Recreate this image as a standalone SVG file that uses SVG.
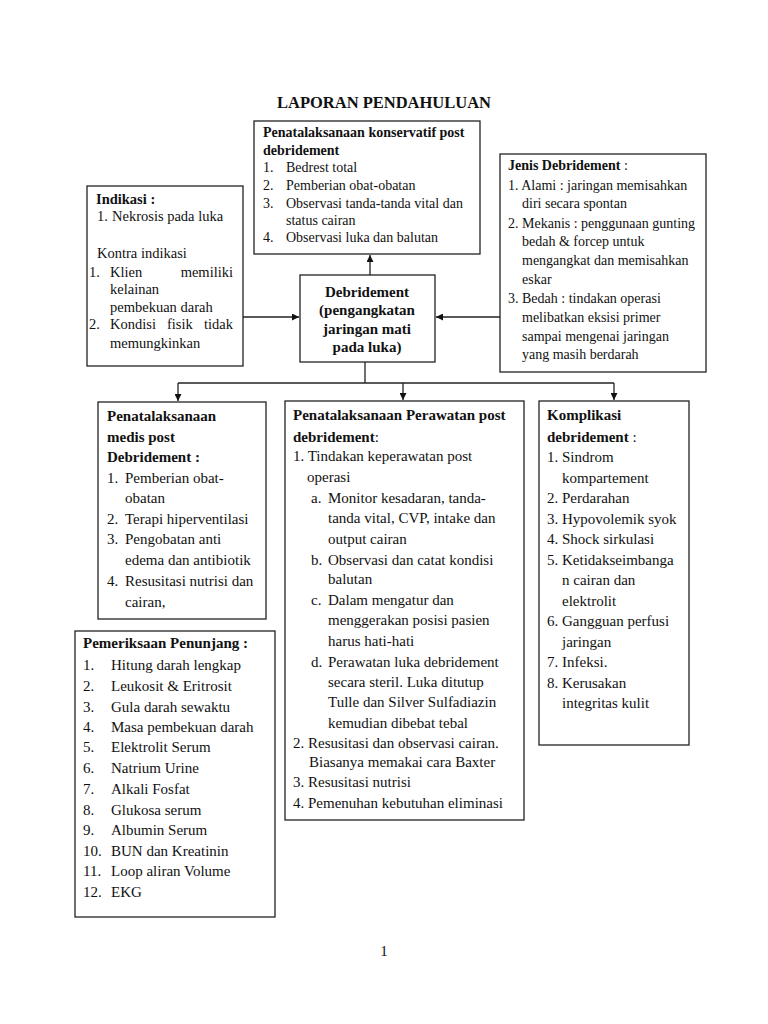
<svg xmlns="http://www.w3.org/2000/svg" width="768" height="1024" viewBox="0 0 768 1024">
<style>
text{font-family:"Liberation Serif","Times New Roman",serif;fill:#111;}
.t{font-size:14px;}
.i{font-size:14.5px;}
.m{font-size:15px;}
.b{font-weight:bold;}
.box{fill:#fff;stroke:#222;stroke-width:1.3;}
.ln{fill:none;stroke:#222;stroke-width:1.3;}
</style>
<defs>
<marker id="ah" viewBox="0 0 10 10" refX="10" refY="5" markerWidth="7" markerHeight="7" orient="auto-start-reverse" markerUnits="userSpaceOnUse">
<path d="M0,0 L10,5 L0,10 z" fill="#111"/>
</marker>
</defs>
<rect width="768" height="1024" fill="#fff"/>
<text x="384" y="108" text-anchor="middle" class="b" style="font-size:16.5px">LAPORAN PENDAHULUAN</text>

<g id="connectors">
<line class="ln" x1="370" y1="275" x2="370" y2="255" marker-end="url(#ah)"/>
<line class="ln" x1="243" y1="317" x2="299" y2="317" marker-end="url(#ah)"/>
<line class="ln" x1="500" y1="317" x2="436" y2="317" marker-end="url(#ah)"/>
<polyline class="ln" points="365,362 365,383"/>
<line class="ln" x1="178" y1="383" x2="614" y2="383"/>
<line class="ln" x1="178" y1="383" x2="178" y2="401" marker-end="url(#ah)"/>
<line class="ln" x1="403" y1="383" x2="403" y2="400" marker-end="url(#ah)"/>
<line class="ln" x1="614" y1="383" x2="614" y2="400" marker-end="url(#ah)"/>
</g>

<g id="konservatif">
<rect class="box" x="254" y="121" width="226" height="133"/>
<text class="t b" x="263" y="137">Penatalaksanaan konservatif post</text>
<text class="t b" x="263" y="155">debridement</text>
<text class="t" x="263" y="172">1.</text><text class="t" x="286" y="172">Bedrest total</text>
<text class="t" x="263" y="190">2.</text><text class="t" x="286" y="190">Pemberian obat-obatan</text>
<text class="t" x="263" y="208">3.</text><text class="t" x="286" y="208">Observasi tanda-tanda vital dan</text>
<text class="t" x="286" y="225">status cairan</text>
<text class="t" x="263" y="242">4.</text><text class="t" x="286" y="242">Observasi luka dan balutan</text>
</g>

<g id="indikasi">
<rect class="box" x="87" y="186" width="156" height="180"/>
<text class="i b" x="96" y="204">Indikasi :</text>
<text class="i" x="97" y="221">1.</text><text class="i" x="112" y="221">Nekrosis pada luka</text>
<text class="i" x="97" y="258">Kontra indikasi</text>
<text class="i" x="89" y="277">1.</text><text class="i" x="110" y="277">Klien</text><text class="i" x="233" y="277" text-anchor="end">memiliki</text>
<text class="i" x="110" y="294">kelainan</text>
<text class="i" x="110" y="312">pembekuan darah</text>
<text class="i" x="89" y="329">2.</text><text class="i" x="110" y="329">Kondisi</text><text class="i" x="167" y="329">fisik</text><text class="i" x="233" y="329" text-anchor="end">tidak</text>
<text class="i" x="110" y="348">memungkinkan</text>
</g>

<g id="jenis">
<rect class="box" x="500" y="154" width="206" height="218"/>
<text class="t" x="508" y="170"><tspan class="b">Jenis Debridement</tspan> :</text>
<text class="t" x="508" y="190">1. Alami : jaringan memisahkan</text>
<text class="t" x="522" y="208">diri secara spontan</text>
<text class="t" x="508" y="228">2. Mekanis : penggunaan gunting</text>
<text class="t" x="522" y="246">bedah &amp; forcep untuk</text>
<text class="t" x="522" y="265">mengangkat dan memisahkan</text>
<text class="t" x="522" y="284">eskar</text>
<text class="t" x="508" y="303">3. Bedah : tindakan operasi</text>
<text class="t" x="522" y="322">melibatkan eksisi primer</text>
<text class="t" x="522" y="341">sampai mengenai jaringan</text>
<text class="t" x="522" y="359">yang masih berdarah</text>
</g>

<g id="debridement">
<rect class="box" x="300" y="275" width="135" height="87"/>
<text class="m b" x="367" y="297" text-anchor="middle">Debridement</text>
<text class="m b" x="367" y="315" text-anchor="middle">(pengangkatan</text>
<text class="m b" x="367" y="334" text-anchor="middle">jaringan mati</text>
<text class="m b" x="367" y="352" text-anchor="middle">pada luka)</text>
</g>

<g id="medis">
<rect class="box" x="98" y="402" width="168" height="217"/>
<text class="m b" x="107" y="421">Penatalaksanaan</text>
<text class="m b" x="107" y="442">medis post</text>
<text class="m b" x="107" y="462">Debridement :</text>
<text class="m" x="107" y="483">1.</text><text class="m" x="125" y="483">Pemberian obat-</text>
<text class="m" x="125" y="503">obatan</text>
<text class="m" x="107" y="524">2.</text><text class="m" x="125" y="524">Terapi hiperventilasi</text>
<text class="m" x="107" y="544">3.</text><text class="m" x="125" y="544">Pengobatan anti</text>
<text class="m" x="125" y="565">edema dan antibiotik</text>
<text class="m" x="107" y="586">4.</text><text class="m" x="125" y="586">Resusitasi nutrisi dan</text>
<text class="m" x="125" y="607">cairan,</text>
</g>

<g id="perawatan">
<rect class="box" x="285" y="401" width="239" height="419"/>
<text class="m b" x="293" y="420">Penatalaksanaan Perawatan post</text>
<text class="m" x="293" y="442"><tspan class="b">debridement</tspan>:</text>
<text class="m" x="293" y="461">1. Tindakan keperawatan post</text>
<text class="m" x="307" y="482">operasi</text>
<text class="m" x="311" y="503">a.</text><text class="m" x="328" y="503">Monitor kesadaran, tanda-</text>
<text class="m" x="328" y="523">tanda vital, CVP, intake dan</text>
<text class="m" x="328" y="544">output cairan</text>
<text class="m" x="311" y="565">b.</text><text class="m" x="328" y="565">Observasi dan catat kondisi</text>
<text class="m" x="328" y="584">balutan</text>
<text class="m" x="311" y="605">c.</text><text class="m" x="328" y="605">Dalam mengatur dan</text>
<text class="m" x="328" y="625">menggerakan posisi pasien</text>
<text class="m" x="328" y="646">harus hati-hati</text>
<text class="m" x="311" y="667">d.</text><text class="m" x="328" y="667">Perawatan luka debridement</text>
<text class="m" x="328" y="687">secara steril. Luka ditutup</text>
<text class="m" x="328" y="707">Tulle dan Silver Sulfadiazin</text>
<text class="m" x="328" y="728">kemudian dibebat tebal</text>
<text class="m" x="293" y="748">2. Resusitasi dan observasi cairan.</text>
<text class="m" x="309" y="767">Biasanya memakai cara Baxter</text>
<text class="m" x="293" y="787">3. Resusitasi nutrisi</text>
<text class="m" x="293" y="808">4. Pemenuhan kebutuhan eliminasi</text>
</g>

<g id="komplikasi">
<rect class="box" x="539" y="401" width="150" height="344"/>
<text class="m b" x="547" y="420">Komplikasi</text>
<text class="m" x="547" y="442"><tspan class="b">debridement</tspan> :</text>
<text class="m" x="547" y="462">1. Sindrom</text>
<text class="m" x="562" y="483">kompartement</text>
<text class="m" x="547" y="503">2. Perdarahan</text>
<text class="m" x="547" y="524">3. Hypovolemik syok</text>
<text class="m" x="547" y="544">4. Shock sirkulasi</text>
<text class="m" x="547" y="565">5. Ketidakseimbanga</text>
<text class="m" x="562" y="585">n cairan dan</text>
<text class="m" x="562" y="606">elektrolit</text>
<text class="m" x="547" y="626">6. Gangguan perfusi</text>
<text class="m" x="562" y="647">jaringan</text>
<text class="m" x="547" y="667">7. Infeksi.</text>
<text class="m" x="547" y="688">8. Kerusakan</text>
<text class="m" x="562" y="708">integritas kulit</text>
</g>

<g id="pemeriksaan">
<rect class="box" x="75" y="631" width="200" height="286"/>
<text class="m b" x="83" y="648">Pemeriksaan Penunjang :</text>
<text class="m" x="83" y="670">1.</text><text class="m" x="111" y="670">Hitung darah lengkap</text>
<text class="m" x="83" y="691">2.</text><text class="m" x="111" y="691">Leukosit &amp; Eritrosit</text>
<text class="m" x="83" y="712">3.</text><text class="m" x="111" y="712">Gula darah sewaktu</text>
<text class="m" x="83" y="732">4.</text><text class="m" x="111" y="732">Masa pembekuan darah</text>
<text class="m" x="83" y="752">5.</text><text class="m" x="111" y="752">Elektrolit Serum</text>
<text class="m" x="83" y="773">6.</text><text class="m" x="111" y="773">Natrium Urine</text>
<text class="m" x="83" y="794">7.</text><text class="m" x="111" y="794">Alkali Fosfat</text>
<text class="m" x="83" y="815">8.</text><text class="m" x="111" y="815">Glukosa serum</text>
<text class="m" x="83" y="835">9.</text><text class="m" x="111" y="835">Albumin Serum</text>
<text class="m" x="83" y="856">10.</text><text class="m" x="111" y="856">BUN dan Kreatinin</text>
<text class="m" x="83" y="876">11.</text><text class="m" x="111" y="876">Loop aliran Volume</text>
<text class="m" x="83" y="897">12.</text><text class="m" x="111" y="897">EKG</text>
</g>

<text class="m" x="384" y="956" text-anchor="middle">1</text>
</svg>
